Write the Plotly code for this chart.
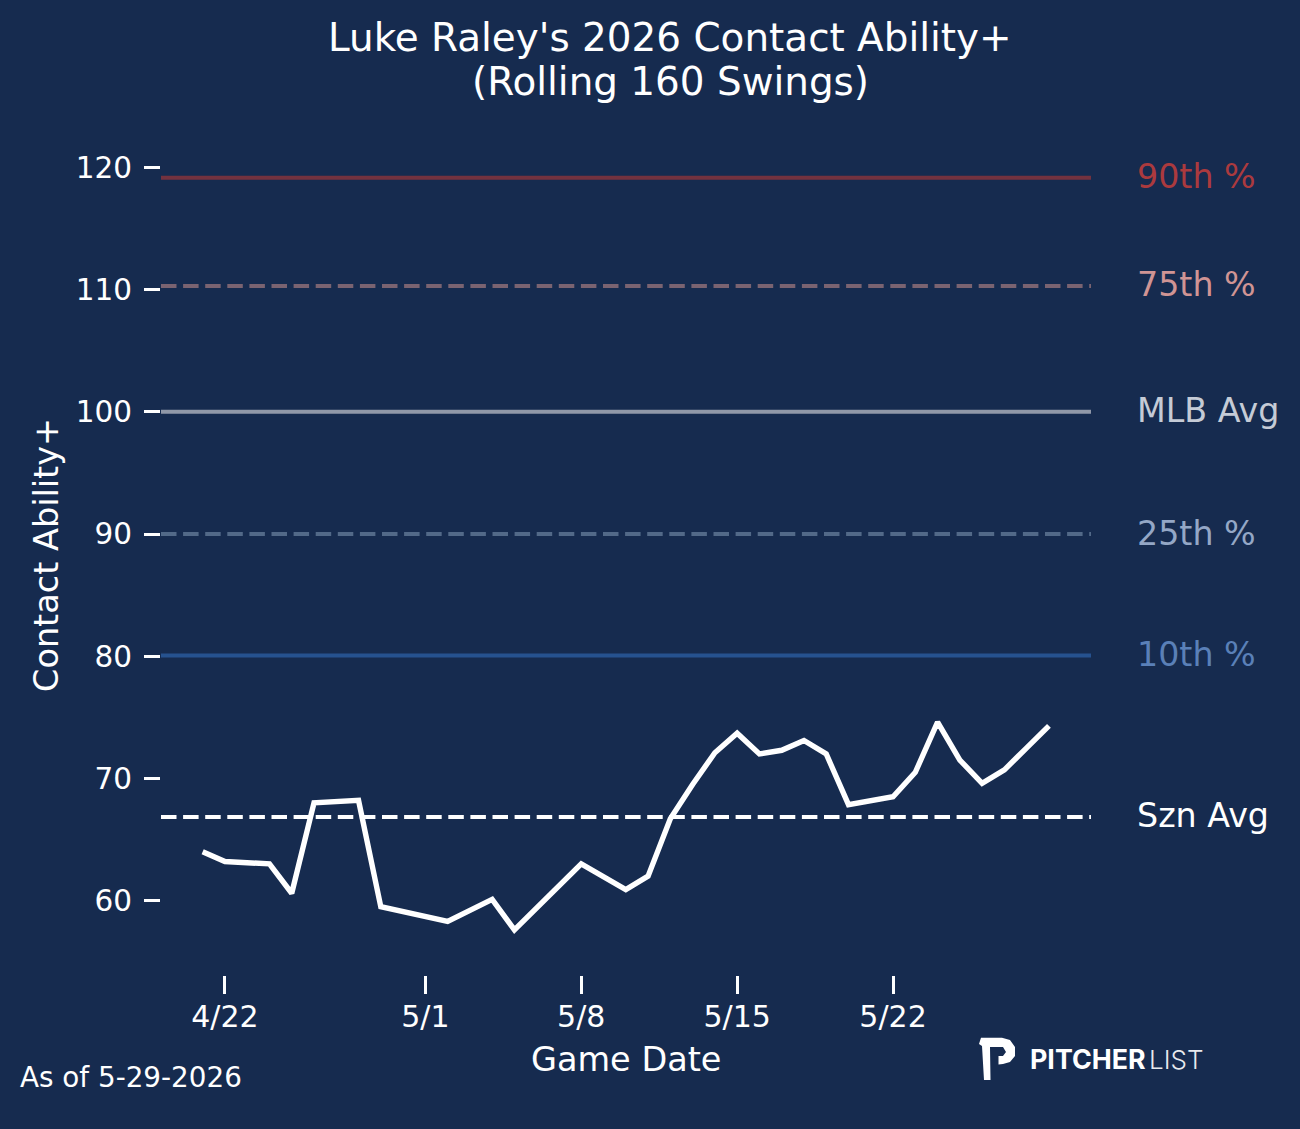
import plotly.graph_objects as go

FONT = "DejaVu Sans"
BG = "#162b4f"

dates = ["2026-04-21", "2026-04-22", "2026-04-24", "2026-04-25", "2026-04-26", "2026-04-28",
         "2026-04-29", "2026-05-02", "2026-05-04", "2026-05-05", "2026-05-08", "2026-05-10",
         "2026-05-11", "2026-05-12", "2026-05-13", "2026-05-14", "2026-05-15", "2026-05-16",
         "2026-05-17", "2026-05-18", "2026-05-19", "2026-05-20", "2026-05-22", "2026-05-23",
         "2026-05-24", "2026-05-25", "2026-05-26", "2026-05-27", "2026-05-28", "2026-05-29"]
contact_ability = [64.0, 63.2, 63.0, 60.6, 68.0, 68.2, 59.5, 58.3, 60.1, 57.6, 63.0, 60.9,
                   62.0, 66.7, 69.5, 72.1, 73.7, 72.0, 72.3, 73.1, 72.0, 67.85, 68.5, 70.5,
                   74.6, 71.5, 69.6, 70.7, 72.5, 74.3]

ref_names = ["90th %", "75th %", "MLB Avg", "25th %", "10th %", "Szn Avg"]
ref_values = [119.15, 110.3, 100.0, 90.0, 80.05, 66.85]
ref_colors = ["#73323f", "#7a6371", "#9098a8", "#526988", "#26528f", "#ffffff"]
ref_dashes = ["solid", "15.5px,6.6px", "solid", "15.5px,6.6px", "solid", "15.5px,6.6px"]
ref_text_colors = ["#ab3a3e", "#d09494", "#c5cbd6", "#94a7c6", "#5a80b8", "#ffffff"]

tick_dates = ["2026-04-22", "2026-05-01", "2026-05-08", "2026-05-15", "2026-05-22"]
tick_labels = ["4/22", "5/1", "5/8", "5/15", "5/22"]
y_ticks = [60, 70, 80, 90, 100, 110, 120]

X_RANGE = ["2026-04-19 03:07", "2026-05-30 21:20"]
Y_RANGE = [53.91, 122.98]
M = dict(l=161, r=209, t=131, b=154)
W, H = 1300, 1129

fig = go.Figure()
for name, val, col, dash in zip(ref_names, ref_values, ref_colors, ref_dashes):
    fig.add_trace(go.Scatter(x=X_RANGE, y=[val, val], mode="lines", name=name,
                             line=dict(color=col, width=4, dash=dash), hoverinfo="skip"))

fig.add_trace(go.Scatter(x=dates, y=contact_ability, mode="lines", name="Contact Ability+",
                         line=dict(color="#ffffff", width=5.4)))


def px(x, y):
    """Pixel position on the page to plot-area paper coordinates."""
    return ((x - M["l"]) / (W - M["l"] - M["r"]),
            (H - M["b"] - y) / (H - M["t"] - M["b"]))


def page_text(x, y, text, size, family=FONT, anchor="center", color="#ffffff", weight=None, **kw):
    px_x, px_y = px(x, y)
    font = dict(family=family, size=size, color=color)
    if weight:
        font["weight"] = weight
    fig.add_annotation(x=px_x, y=px_y, xref="paper", yref="paper", xanchor=anchor, yanchor="middle",
                       showarrow=False, text=text, font=font, **kw)


def logo_path(points):
    return "M" + " L".join("%.5f,%.5f" % px(*p) for p in points) + " Z"


for name, val, col in zip(ref_names, ref_values, ref_text_colors):
    fig.add_annotation(x=px(1134.5, 0)[0], xref="paper", xanchor="left", y=val, yref="y", yshift=1,
                       text=name, showarrow=False, font=dict(family=FONT, size=33.3, color=col))

# Brand mark beside the wordmark
fig.add_shape(type="path", xref="paper", yref="paper", fillcolor="#ffffff", line_width=0,
              path=logo_path([(981, 1037.7), (1002, 1037.7), (1010, 1040), (1015, 1047), (1015, 1056),
                              (1010, 1062), (1003, 1064), (998.5, 1064.5), (998.5, 1056), (1003, 1056),
                              (1006, 1052), (1003, 1047), (990, 1047), (990.5, 1080), (984, 1080),
                              (982, 1046), (979, 1044)]))

page_text(1028, 1059, "<b>PITCHER</b>", 26.8, family="Inter", anchor="left")
page_text(1147, 1059, "LIST", 26, family="Inter", anchor="left", color="#e8eaee", weight=300)
page_text(18, 1077, "As of 5-29-2026", 27.8, anchor="left")
page_text(626, 1059, "Game Date", 33.5)
page_text(46, 555, "Contact Ability+", 33.5, textangle=-90)
page_text(670, 37, "Luke Raley's 2026 Contact Ability+", 38.9)
page_text(670, 81, "(Rolling 160 Swings)", 38.9)

fig.update_layout(
    width=W, height=H, margin=M, paper_bgcolor=BG, plot_bgcolor=BG, showlegend=False,
    xaxis=dict(type="date", range=X_RANGE, tickvals=tick_dates, ticktext=tick_labels, showgrid=False,
               zeroline=False, showline=False, ticks="outside", ticklen=18, tickwidth=3, tickcolor="#ffffff",
               tickfont=dict(family=FONT, size=30, color="#ffffff"), ticklabelstandoff=-3),
    yaxis=dict(range=Y_RANGE, tickvals=y_ticks, showgrid=False, zeroline=False, showline=False,
               ticks="outside", ticklen=16, tickwidth=3, tickcolor="#ffffff",
               tickfont=dict(family=FONT, size=29.5, color="#ffffff"), ticklabelstandoff=6),
)
fig.write_html("out.html")
